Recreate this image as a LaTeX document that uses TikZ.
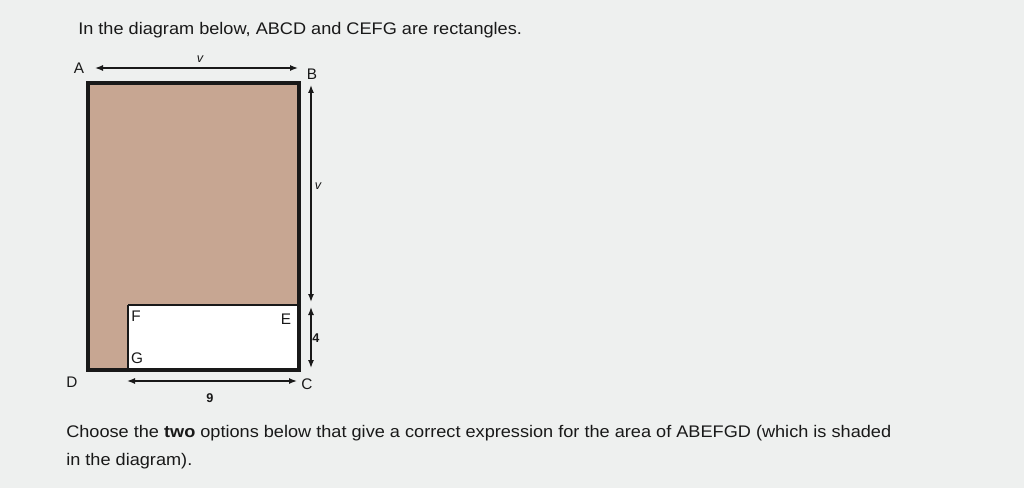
\documentclass[tikz,border=0pt]{standalone}
\usepackage{fontspec}
\setmainfont{Liberation Sans}
\usetikzlibrary{arrows.meta}
\definecolor{bgcol}{RGB}{238,240,239}
\definecolor{tancol}{RGB}{199,166,146}
\definecolor{ink}{RGB}{25,25,25}
\tikzset{
  dim/.style={draw=ink, line width=1pt, {Latex[length=6pt,width=4.5pt]}-{Latex[length=6pt,width=4.5pt]}},
  lbl/.style={font=\fontsize{11.5pt}{13pt}\selectfont, text=ink, inner sep=0pt},
  var/.style={font=\fontsize{9.5pt}{10pt}\selectfont\itshape, text=ink, inner sep=0pt},
  txt/.style={font=\fontsize{12.6pt}{14pt}\selectfont, text=ink, inner sep=0pt, anchor=west},
  edge/.style={draw=ink, line width=2.8pt}
}
\begin{document}
\begin{tikzpicture}[x=0.75pt,y=-0.75pt]
\fill[bgcol] (0,0) rectangle (1024,488);
\useasboundingbox (0,0) rectangle (1024,488);
% corners
\coordinate (A) at (88,83);
\coordinate (B) at (299,83);
\coordinate (C) at (299,370);
\coordinate (D) at (88,370);
\coordinate (E) at (299,305);
\coordinate (F) at (128,305);
\coordinate (G) at (128,370);
% shading
\fill[tancol] (A) -- (B) -- (E) -- (F) -- (G) -- (D) -- cycle;
\fill[white] (F) rectangle (C);
\draw[edge] (A) -- (B) -- (C) -- (D) -- cycle;
\draw[draw=ink, line width=1.6pt] (G) -- (F);
\draw[draw=ink, line width=2.2pt] (F) -- (E);
% dimension arrows
\coordinate (t1) at (95,68); \coordinate (t2) at (298,68);
\draw[dim] (t1) -- (t2);
\coordinate (r1) at (311,85); \coordinate (r2) at (311,302);
\draw[dim] (r1) -- (r2);
\coordinate (r3) at (311,307); \coordinate (r4) at (311,368);
\draw[dim] (r3) -- (r4);
\coordinate (b1) at (127,381); \coordinate (b2) at (297,381);
\draw[dim] (b1) -- (b2);
% labels
\node[lbl] (lA) at (79,68) {A};
\node[lbl] (lB) at (312,74) {B};
\node[lbl] (lC) at (307,384) {C};
\node[lbl] (lD) at (72,382) {D};
\node[lbl] (lE) at (286,319) {E};
\node[lbl] (lF) at (136,316) {F};
\node[lbl] (lG) at (137,358) {G};
\node[var] (v1) at (200,59) {v};
\node[var] (v2) at (318,186) {v};
\node[lbl,font=\fontsize{9.5pt}{10pt}\selectfont\bfseries] (n4) at (316,338) {4};
\node[lbl,font=\fontsize{9.5pt}{10pt}\selectfont\bfseries] (n9) at (210,398) {9};
% text
\node[txt] (title) at (78,30) {\scalebox{1.08}[1]{In the diagram below, ABCD and CEFG are rectangles.}};
\node[txt] (q1) at (66,433) {\scalebox{1.08}[1]{Choose the \textbf{two} options below that give a correct expression for the area of ABEFGD (which is shaded}};
\node[txt] (q2) at (66,461) {\scalebox{1.08}[1]{in the diagram).}};
\end{tikzpicture}
\end{document}
